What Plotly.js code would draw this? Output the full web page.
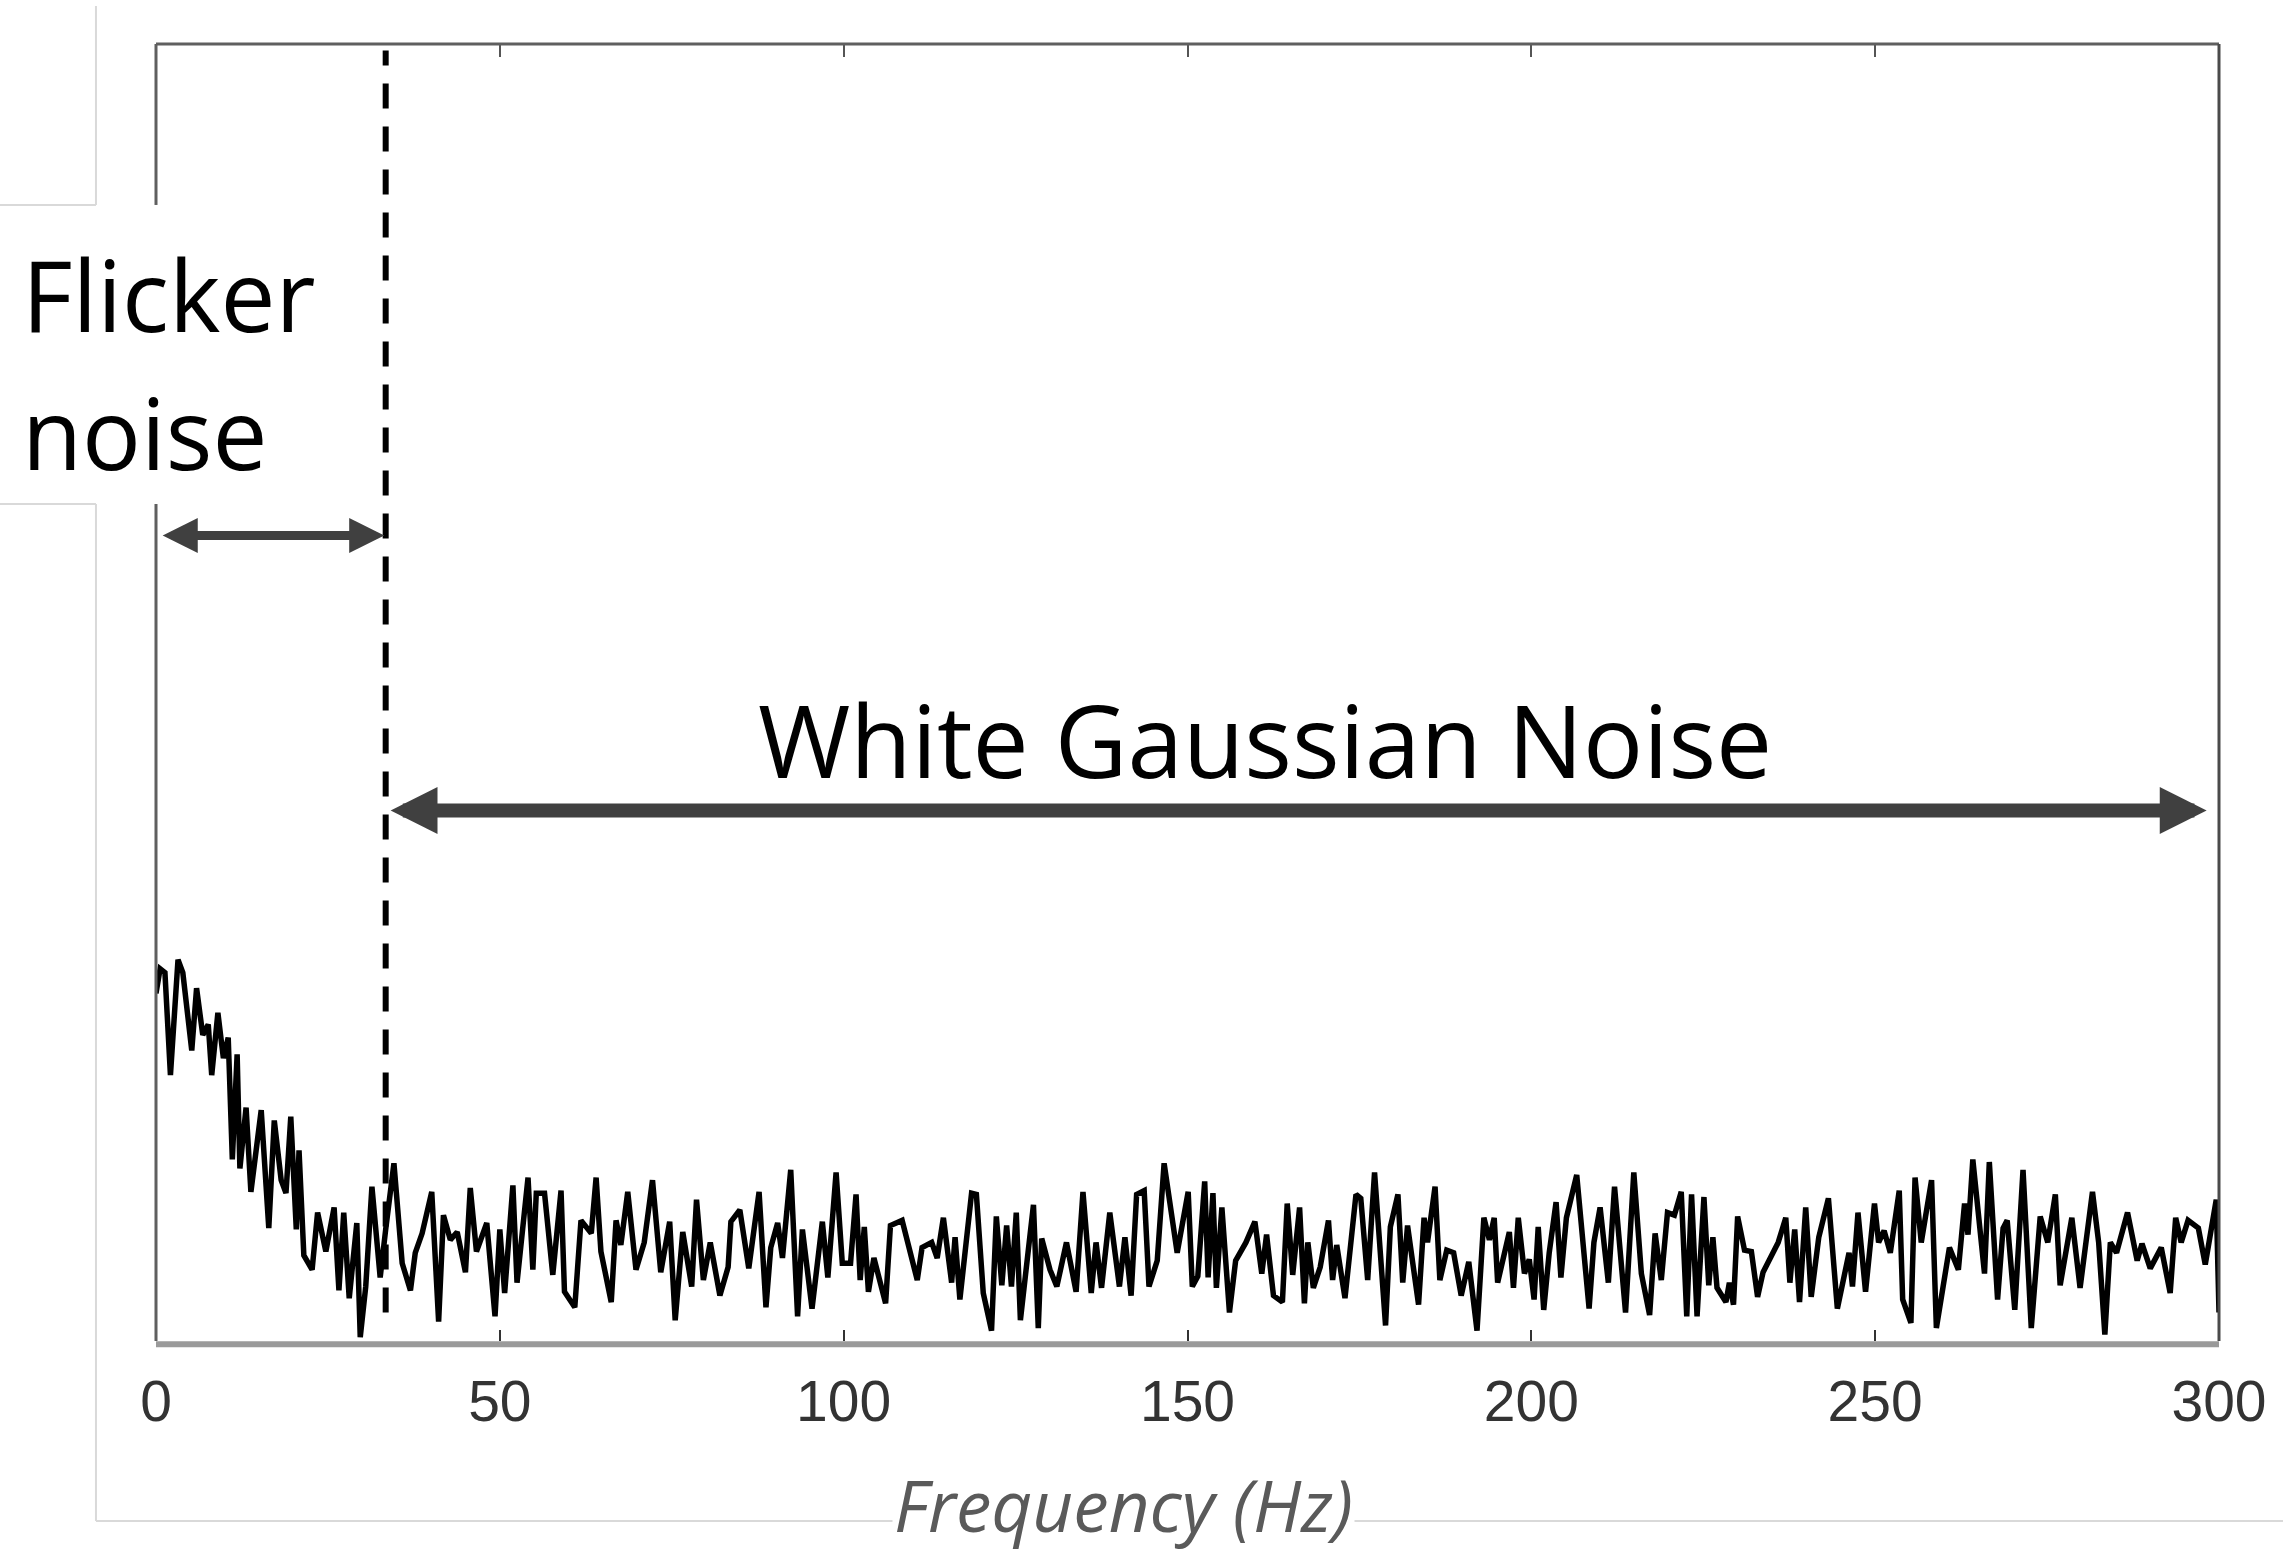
<!DOCTYPE html>
<html>
<head>
<meta charset="utf-8">
<script src="https://cdn.plot.ly/plotly-3.0.1.min.js"></script>
<style>
  html, body { margin: 0; padding: 0; background: #ffffff; }
  #chart { width: 2283px; height: 1565px; }
</style>
</head>
<body>
<div id="chart"></div>
<script>
// ---- data (y is in arbitrary power units) ----
const freqHz = [
  0.0,0.6,1.3,2.1,3.2,3.9,5.2,5.9,6.8,7.6,
  8.1,9.0,9.8,10.5,11.1,11.8,12.2,13.1,13.8,15.3,
  16.4,17.2,18.2,18.9,19.6,20.4,20.8,21.5,22.7,23.5,
  24.7,25.9,26.6,27.3,28.1,29.2,29.7,30.5,31.4,32.6,
  33.4,34.6,35.8,37.0,37.7,38.7,40.1,41.1,41.8,42.8,
  43.8,45.0,45.7,46.6,48.1,49.3,50.0,50.7,51.9,52.5,
  54.1,54.8,55.3,56.5,57.7,58.9,59.4,60.9,61.8,63.3,
  64.0,64.7,66.2,66.9,67.6,68.6,69.8,71.0,72.2,73.4,
  74.7,75.5,76.6,77.9,78.6,79.6,80.6,82.0,83.2,83.6,
  84.9,86.2,87.7,88.7,89.4,90.4,91.1,92.3,93.3,94.0,
  95.4,96.9,97.7,98.9,99.8,101.0,101.8,102.4,103.0,103.6,
  104.4,106.1,106.8,108.5,110.7,111.4,112.8,113.6,114.5,115.7,
  116.2,116.9,118.6,119.3,120.3,121.5,122.2,123.0,123.7,124.4,
  125.1,125.7,126.4,127.6,128.3,128.8,130.0,131.0,132.4,133.8,
  134.8,136.0,136.7,137.5,138.7,140.1,140.9,141.8,142.6,143.7,
  144.4,145.6,146.6,148.5,150.1,150.7,151.5,152.5,153.0,153.7,
  154.2,155.0,156.1,157.0,158.5,159.8,160.8,161.5,162.5,163.8,
  164.5,165.3,166.3,167.0,167.5,168.3,169.3,170.5,171.1,171.7,
  172.9,174.5,175.2,176.2,177.2,178.8,179.5,180.6,181.3,182.0,
  183.6,184.4,184.9,186.0,186.7,187.7,188.7,189.8,190.9,192.1,
  193.1,193.9,194.6,195.1,196.8,197.4,198.1,199.0,199.7,200.4,
  201.0,201.8,202.6,203.6,204.3,205.1,206.6,207.4,208.4,209.1,
  210.0,211.2,212.1,213.7,214.9,216.0,217.2,218.0,218.9,219.8,
  220.8,221.8,222.6,223.3,224.1,225.1,225.8,226.4,227.0,228.3,
  228.8,229.4,230.0,231.0,232.0,232.9,233.7,235.9,237.0,237.6,
  238.3,239.0,239.9,240.7,241.8,243.2,244.5,246.2,246.7,247.5,
  248.6,249.9,250.5,251.3,252.2,253.5,254.0,255.2,255.8,256.7,
  258.2,258.9,260.0,260.8,262.1,263.0,263.5,264.2,265.9,266.6,
  267.8,268.6,269.2,270.3,271.5,272.7,274.0,275.1,276.2,276.9,
  278.6,279.8,281.6,282.5,283.4,284.2,285.1,286.7,288.1,288.8,
  290.0,291.6,292.9,293.7,294.5,295.5,297.0,298.0,299.6,300.0
];
const psd = [
  26.8,28.7,28.4,20.5,29.4,28.4,22.4,27.2,23.6,24.4,
  20.5,25.3,21.8,23.4,14.0,22.1,13.3,18.0,11.5,17.8,
  8.7,17.0,12.4,11.4,17.3,8.6,14.7,6.6,5.5,9.9,
  6.9,10.3,3.9,9.9,3.3,9.1,0.3,4.2,11.9,4.9,
  8.6,13.7,6.0,3.9,6.8,8.3,11.5,1.5,9.7,7.8,
  8.4,5.3,11.8,6.9,9.1,1.9,8.6,3.7,12.0,4.5,
  12.6,5.5,11.4,11.4,5.1,11.6,3.8,2.6,9.3,8.3,
  12.6,6.9,3.0,9.3,7.4,11.5,5.5,7.6,12.4,5.3,
  9.2,1.6,8.4,4.2,10.9,4.7,7.6,3.5,5.7,9.2,
  10.1,5.6,11.5,2.6,7.2,9.1,6.4,13.2,1.9,8.6,
  2.5,9.2,4.9,13.0,6.0,6.0,11.3,4.7,8.8,3.8,
  6.4,2.9,8.9,9.3,4.7,7.2,7.6,6.4,9.5,4.5,
  8.0,3.2,11.4,11.3,3.7,0.8,9.6,4.3,8.9,4.2,
  9.9,1.6,4.9,10.5,1.0,7.9,5.5,4.2,7.6,3.8,
  11.5,3.7,7.6,4.1,9.9,4.2,8.0,3.5,11.3,11.6,
  4.2,6.2,13.7,6.8,11.5,4.2,5.0,12.3,4.9,11.4,
  4.1,10.3,2.2,6.2,7.6,9.2,5.2,8.2,3.5,3.0,
  10.6,5.1,10.3,2.9,7.6,4.1,5.7,9.3,4.7,7.4,
  3.3,11.3,11.0,4.7,13.0,1.2,8.8,11.3,4.5,8.9,
  2.8,9.5,7.6,11.9,4.7,7.0,6.8,3.5,6.1,0.8,
  9.5,7.8,9.5,4.5,8.4,4.1,9.5,5.2,6.3,3.2,
  8.8,2.4,6.8,10.7,4.9,9.5,12.8,7.9,2.5,7.6,
  10.3,4.5,11.9,2.2,13.0,5.2,2.0,8.3,4.7,9.9,
  9.7,11.5,1.9,11.3,1.9,11.1,4.3,8.0,4.1,3.0,
  4.5,2.8,9.6,7.0,6.9,3.4,5.3,7.6,9.5,4.5,
  8.6,3.0,10.3,3.4,8.0,11.0,2.5,6.8,4.2,9.9,
  3.8,10.6,7.6,8.5,6.8,11.6,3.2,1.4,12.6,7.6,
  12.4,1.0,4.7,7.2,5.5,10.6,8.2,14.0,5.2,13.8,
  3.2,8.7,9.3,2.4,13.2,1.0,9.6,7.6,11.3,4.3,
  9.5,4.1,11.5,7.6,0.5,7.6,6.8,9.9,6.2,7.5,
  5.6,7.2,3.7,9.5,7.6,9.3,8.7,5.9,10.9,2.2
];
const xTickVals = [0, 50, 100, 150, 200, 250, 300];
const xTickText = ['0', '50', '100', '150', '200', '250', '300'];
const xTitle = 'Frequency (Hz)';
const flickerLabel = ['Flicker', 'noise'];
const wgnLabel = 'White Gaussian Noise';
const boundaryHz = 33.4;      // flicker / white-noise boundary
const xRange = [0, 300];
const yRange = [0, 100];

// ---- figure ----
const trace = {
  x: freqHz, y: psd, type: 'scatter', mode: 'lines',
  line: { color: '#000000', width: 5.5 },
  hoverinfo: 'skip', showlegend: false
};
const topAxisTrace = { x: [], y: [], xaxis: 'x2', yaxis: 'y', type: 'scatter', mode: 'lines', showlegend: false };

const frameColor = '#5f5f5f';
const lightFrame = '#d9d9d9';
function pline(x0, y0, x1, y1, color, width, layer) {
  return { type: 'line', xref: 'paper', yref: 'paper', x0, y0, x1, y1,
           line: { color, width }, layer: layer || 'above' };
}
const shapes = [
  // outer light-gray figure border (interrupted by the label box)
  pline(-0.0291, 1.0293, -0.0291, 0.8759, lightFrame, 2),
  pline(-0.0757, 0.8759, -0.0291, 0.8759, lightFrame, 2),
  pline(-0.0757, 0.6453, -0.0291, 0.6453, lightFrame, 2),
  pline(-0.0291, 0.6453, -0.0291, -0.1388, lightFrame, 2),
  pline(-0.0291, -0.1388, 1.04, -0.1388, lightFrame, 2),
  // plot frame
  pline(0, 1, 1, 1, frameColor, 3),
  pline(1, 1, 1, 0, '#4a4a4a', 3),
  pline(0, 1, 0, 0.8759, frameColor, 3),
  pline(0, 0.6453, 0, 0, frameColor, 3),
  pline(0, -0.0025, 1, -0.0025, '#9a9a9a', 6),
  // boundary between flicker and white noise
  { type: 'line', xref: 'x', yref: 'y', x0: boundaryHz, x1: boundaryHz, y0: 2.2, y1: 99.5,
    line: { color: '#000000', width: 6, dash: '25px,18px' }, layer: 'above' }
];

const annotations = [
  // white gaussian noise double arrow
  { xref: 'x', yref: 'y', axref: 'x', ayref: 'y', x: 298.2, y: 40.9, ax: 33.9, ay: 40.9,
    text: '', showarrow: true, arrowside: 'end+start', arrowhead: 2, startarrowhead: 2,
    arrowsize: 0.67, startarrowsize: 0.67, arrowwidth: 14, arrowcolor: '#404040' },
  // flicker double arrow
  { xref: 'x', yref: 'y', axref: 'x', ayref: 'y', x: 33.2, y: 62.1, ax: 0.75, ay: 62.1,
    text: '', showarrow: true, arrowside: 'end+start', arrowhead: 2, startarrowhead: 2,
    arrowsize: 0.78, startarrowsize: 0.78, arrowwidth: 9, arrowcolor: '#404040' },
  { xref: 'paper', yref: 'paper', x: 0.5376, y: 0.4641, xanchor: 'center', yanchor: 'middle',
    text: wgnLabel, showarrow: false,
    font: { family: 'Open Sans, Noto Sans, sans-serif', size: 100, color: '#000000' } },
  { xref: 'paper', yref: 'paper', x: -0.0660, y: 0.8072, xanchor: 'left', yanchor: 'middle',
    text: flickerLabel[0], showarrow: false,
    font: { family: 'Open Sans, Noto Sans, sans-serif', size: 98, color: '#000000' } },
  { xref: 'paper', yref: 'paper', x: -0.0660, y: 0.7008, xanchor: 'left', yanchor: 'middle',
    text: flickerLabel[1], showarrow: false,
    font: { family: 'Open Sans, Noto Sans, sans-serif', size: 98, color: '#000000' } },
  { xref: 'paper', yref: 'paper', x: 0.4692, y: -0.1257, xanchor: 'center', yanchor: 'middle',
    text: '<i>' + xTitle + '</i>', showarrow: false, bgcolor: '#ffffff',
    font: { family: 'Open Sans, Noto Sans, sans-serif', size: 71, color: '#5a5a5a' } }
];

const layout = {
  width: 2283, height: 1565,
  margin: { l: 156, r: 64, t: 44, b: 224, pad: 0 },
  paper_bgcolor: '#ffffff', plot_bgcolor: '#ffffff',
  showlegend: false,
  xaxis: {
    range: xRange, showline: false, showgrid: false, zeroline: false,
    tickmode: 'array', tickvals: xTickVals, ticktext: xTickText,
    ticks: 'inside', ticklen: 11, tickwidth: 2, tickcolor: '#333333',
    ticklabelstandoff: 22,
    tickfont: { family: 'Liberation Sans, Arial, sans-serif', size: 57, color: '#333333' },
    fixedrange: true
  },
  xaxis2: {
    range: xRange, overlaying: 'x', side: 'top', anchor: 'y',
    showline: false, showgrid: false, zeroline: false,
    tickmode: 'array', tickvals: xTickVals,
    ticks: 'inside', ticklen: 13, tickwidth: 2, tickcolor: '#555555',
    showticklabels: false, fixedrange: true
  },
  yaxis: {
    range: yRange, showline: false, showgrid: false, zeroline: false,
    showticklabels: false, ticks: '', fixedrange: true
  },
  shapes: shapes,
  annotations: annotations
};

Plotly.newPlot('chart', [trace, topAxisTrace], layout, { displayModeBar: false, staticPlot: true });
</script>
</body>
</html>
